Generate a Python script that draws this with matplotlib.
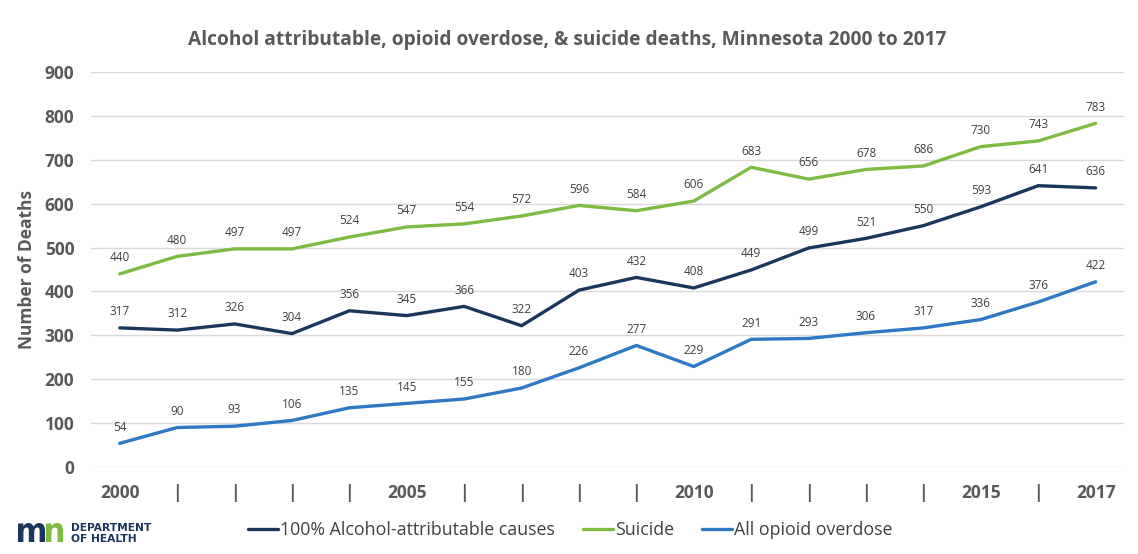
import matplotlib
matplotlib.use("Agg")
import matplotlib.pyplot as plt
from matplotlib import font_manager as fm
from matplotlib.textpath import TextPath
from matplotlib.patches import PathPatch
from matplotlib.transforms import Affine2D, IdentityTransform

years = list(range(2000, 2018))
tick_labels = ["2000", "|", "|", "|", "|", "2005", "|", "|", "|", "|", "2010",
               "|", "|", "|", "|", "2015", "|", "2017"]
alcohol = [317, 312, 326, 304, 356, 345, 366, 322, 403, 432, 408, 449, 499, 521, 550, 593, 641, 636]
suicide = [440, 480, 497, 497, 524, 547, 554, 572, 596, 584, 606, 683, 656, 678, 686, 730, 743, 783]
opioid = [54, 90, 93, 106, 135, 145, 155, 180, 226, 277, 229, 291, 293, 306, 317, 336, 376, 422]
series_names = ["100% Alcohol-attributable causes", "Suicide", "All opioid overdose"]
colors = ["#1b365d", "#7dbb42", "#2f78c4"]

names = {f.name for f in fm.fontManager.ttflist}
base_font = "Open Sans" if "Open Sans" in names else "DejaVu Sans"
plt.rcParams['font.family'] = [base_font, 'DejaVu Sans']

fig = plt.figure(figsize=(11.38, 5.54), dpi=100)
ax = fig.add_axes([0.080, 0.157, 0.908, 0.713])
x = list(range(len(years)))
for vals, name, c in zip([alcohol, suicide, opioid], series_names, colors):
    ax.plot(x, vals, color=c, lw=2.4, label=name, solid_capstyle='round')
    for xi, v in zip(x, vals):
        ax.annotate(str(v), (xi, v), xytext=(0, 7), textcoords='offset points',
                    ha='center', va='bottom', fontsize=8.5, color='#404040')

ax.set_xlim(-0.5, len(years) - 0.5)
ax.set_ylim(0, 900)
ax.set_yticks(range(0, 901, 100))
ax.set_xticks(x)
ax.set_xticklabels(tick_labels)
ax.tick_params(axis='both', length=0, labelsize=12.5, labelcolor='#595959')
ax.tick_params(axis='x', pad=12)
ax.tick_params(axis='y', pad=12)
for lab in ax.get_xticklabels() + ax.get_yticklabels():
    lab.set_fontweight('bold')
ax.grid(axis='y', color='#d9d9d9', lw=1)
ax.set_axisbelow(True)
for s in ax.spines.values():
    s.set_visible(False)
ax.set_ylabel("Number of Deaths", fontsize=12.5, fontweight='bold', color='#595959', labelpad=6)

fig.text(0.4985, 0.928, "Alcohol attributable, opioid overdose, & suicide deaths, Minnesota 2000 to 2017",
         ha='center', va='center', color='#595959', family=base_font, fontsize=13.8, fontweight='bold')

leg = fig.legend(loc='center', bbox_to_anchor=(0.501, 0.043), ncol=3, frameon=False,
                 fontsize=12.8, handlelength=1.7, handletextpad=0.1, columnspacing=1.6)
for t in leg.get_texts():
    t.set_color('#404040')

# logo, positioned in pixels measured from the top-left corner
H = 554
def glyph(ch, color, x0, x1, top_px, bottom_px):
    tp = TextPath((0, 0), ch, size=50, prop=fm.FontProperties(family='DejaVu Sans', weight='heavy'))
    ext = tp.get_extents()
    sx = (x1 - x0) / ext.width
    sy = (bottom_px - top_px) / ext.height
    tr = Affine2D().translate(-ext.x0, -ext.y0).scale(sx, sy).translate(x0, H - bottom_px)
    p = PathPatch(tr.transform_path(tp), facecolor=color, edgecolor='none', transform=IdentityTransform())
    fig.patches.append(p)

glyph("m", '#1b365d', 18, 45, 523, 542)
glyph("n", '#7dbb42', 46, 63, 523, 542)
fig.text(71 / 1138, 1 - 533.5 / 554, "DEPARTMENT\nOF HEALTH", fontsize=7.7, fontweight='bold', color='#1b365d',
         va='center', ha='left', linespacing=1.05, family='DejaVu Sans')

fig.savefig("out.png", dpi=100)
